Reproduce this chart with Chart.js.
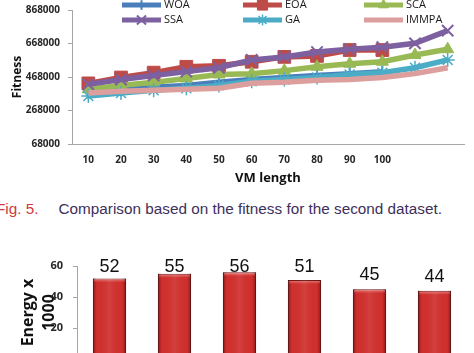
<!DOCTYPE html>
<html><head><meta charset="utf-8">
<script src="https://cdn.jsdelivr.net/npm/chart.js@4.4.0/dist/chart.umd.min.js"></script>
<style>
html,body{margin:0;padding:0;background:#fff;width:474px;height:353px;overflow:hidden;position:relative}
#c1wrap{position:absolute;left:0;top:0;width:474px;height:190px}
#c2wrap{position:absolute;left:0;top:230px;width:474px;height:140px}
#cap{position:absolute;left:-4px;top:200px;font:15.3px/17px "Liberation Sans",Arial,sans-serif;white-space:nowrap;color:#3e2f5b}
#cap .fig{color:#cf3a3a}
#cap .txt{margin-left:20px}
</style></head><body>
<div id="c1wrap"><canvas id="c1" width="474" height="190"></canvas></div>
<div id="cap"><span class="fig">Fig. 5.</span><span class="txt">Comparison based on the fitness for the second dataset.</span></div>
<div id="c2wrap"><canvas id="c2" width="474" height="140"></canvas></div>
<script>
// ---------- data: line chart ----------
const vmLength = ['10','20','30','40','50','60','70','80','90','100','',''];
const woa   = [372000,389000,407000,418000,436000,453000,465000,477000,488000,500000];
const eoa   = [430000,465000,494000,529000,535000,559000,588000,594000,629000,629000];
const sca   = [395000,418000,436000,459000,483000,488000,506000,529000,547000,559000,599000,634000];
const ssa   = [424000,453000,477000,500000,523000,570000,588000,617000,634000,646000,669000,745000];
const ga    = [354000,372000,389000,401000,418000,442000,453000,465000,483000,494000,523000,570000];
const immpa = [372000,383000,389000,395000,401000,430000,436000,448000,453000,465000,488000,523000];
const fitnessTicks = [68000,268000,468000,668000,868000];

// ---------- data: bar chart ----------
const energyCats = ['A','B','C','D','E','F'];
const energyValues = [52,55,56,51,45,44];
const energyTicks = [0,20,40,60];

const FONT = 'Open Sans';

const legendPos = [[122,5],[243,5],[364,5],[122,20],[243,20],[364,20]];
const manualLegend = {
  id:'manualLegend',
  afterDraw(chart){
    const ctx = chart.ctx;
    chart.data.datasets.forEach((ds,i)=>{
      const [x,y] = legendPos[i];
      ctx.save();
      ctx.strokeStyle = ds.borderColor; ctx.lineWidth = 5; ctx.lineCap = 'butt';
      ctx.beginPath(); ctx.moveTo(x,y); ctx.lineTo(x+39,y); ctx.stroke();
      if (ds.pointRadius > 0 && Chart.helpers && Chart.helpers.drawPoint) {
        ctx.fillStyle = ds.pointBackgroundColor; ctx.strokeStyle = ds.pointBorderColor;
        ctx.lineWidth = ds.pointBorderWidth;
        Chart.helpers.drawPoint(ctx,{pointStyle:ds.pointStyle,rotation:ds.pointRotation||0,radius:ds.pointRadius*0.8,borderWidth:ds.pointBorderWidth},x+19.5,y);
      }
      ctx.fillStyle = '#1a1a1a'; ctx.font = '11px "'+FONT+'"'; ctx.textBaseline = 'middle'; ctx.textAlign='left';
      ctx.fillText(ds.label, x+42, y);
      ctx.restore();
    });
  }
};

function ds(label,data,color,style,radius,extra){
  return Object.assign({label,data,borderColor:color,backgroundColor:color,borderWidth:5.5,tension:0,
    pointStyle:style,pointRadius:radius,pointHoverRadius:radius,pointBackgroundColor:color,pointBorderColor:color,pointBorderWidth:2,fill:false},extra||{});
}

new Chart(document.getElementById('c1'),{
  type:'line',
  data:{labels:vmLength,datasets:[
    ds('WOA',woa,'#4a7ebb','line',6,{pointRotation:90,order:5}),
    ds('EOA',eoa,'#be4b48','rect',9,{pointBorderWidth:1,order:4}),
    ds('SCA',sca,'#98b954','triangle',7,{pointBorderWidth:1,order:3}),
    ds('SSA',ssa,'#7d60a0','crossRot',8,{pointBorderWidth:2,order:2}),
    ds('GA',ga,'#4bacc6','star',7,{pointBorderWidth:1.5,order:1}),
    ds('IMMPA',immpa,'#dc9f9d','circle',0,{order:0})
  ]},
  options:{
    responsive:false,animation:false,
    layout:{padding:{top:7,left:0,right:0,bottom:0}},
    plugins:{legend:{display:false},tooltip:{enabled:false}},
    scales:{
      x:{type:'category',offset:true,
        grid:{display:false,drawTicks:false},
        border:{display:true,color:'#a6a6a6',width:1},
        ticks:{autoSkip:false,maxRotation:0,padding:10,color:'#262626',font:{family:FONT,size:10,weight:'bold'}},
        title:{display:true,text:'VM length',color:'#111',font:{family:FONT,size:13,weight:'bold'},padding:{top:0,bottom:4}},
        afterFit(s){s.height=46;}
      },
      y:{min:68000,max:868000,
        afterBuildTicks(s){s.ticks=fitnessTicks.map(v=>({value:v}));},
        grid:{drawOnChartArea:false,drawTicks:true,tickLength:4,color:'#a6a6a6'},
        border:{display:true,color:'#a6a6a6',width:1},
        ticks:{padding:8,color:'#262626',font:{family:FONT,size:10,weight:'bold'},callback:v=>String(v)},
        title:{display:true,text:'Fitness',color:'#111',font:{family:FONT,size:12,weight:'bold'},padding:{top:10,bottom:0}},
        afterFit(s){s.width=72;s.paddingTop=0;s.paddingBottom=0;}
      }
    }
  },
  plugins:[manualLegend]
});

const barStyle = {
  id:'barStyle',
  afterDatasetsDraw(chart){
    const ctx = chart.ctx;
    const meta = chart.getDatasetMeta(0);
    ctx.save();
    meta.data.forEach((el,i)=>{
      const p = el.getProps(['x','y','base','width'],true);
      const l = p.x - p.width/2, w = p.width, h = p.base - p.y;
      const g = ctx.createLinearGradient(l,0,l+w,0);
      g.addColorStop(0,'rgba(60,0,0,0.45)');
      g.addColorStop(0.12,'rgba(60,0,0,0)');
      g.addColorStop(0.5,'rgba(255,255,255,0.08)');
      g.addColorStop(0.88,'rgba(60,0,0,0)');
      g.addColorStop(1,'rgba(60,0,0,0.45)');
      ctx.fillStyle = g; ctx.fillRect(l,p.y,w,h);
      const gv = ctx.createLinearGradient(0,p.y,0,p.y+4);
      gv.addColorStop(0,'rgba(255,200,200,0.55)'); gv.addColorStop(1,'rgba(255,200,200,0)');
      ctx.fillStyle = gv; ctx.fillRect(l+1,p.y+1,w-2,4);
    });
    ctx.font = '18px "Liberation Sans", Arial, sans-serif';
    ctx.fillStyle = '#111'; ctx.textAlign='center'; ctx.textBaseline='middle';
    meta.data.forEach((el,i)=>{
      const y = Math.max(el.y - 14, chart.chartArea.top + 1);
      ctx.fillText(String(chart.data.datasets[0].data[i]), el.x, y);
    });
    ctx.restore();
  }
};

new Chart(document.getElementById('c2'),{
  type:'bar',
  data:{labels:energyCats,datasets:[{data:energyValues,backgroundColor:'#d0302d',borderColor:'#6b1414',borderWidth:1,
    categoryPercentage:1,barPercentage:0.51}]},
  options:{
    responsive:false,animation:false,
    layout:{padding:{top:36,bottom:11,right:7,left:0}},
    plugins:{legend:{display:false},tooltip:{enabled:false}},
    scales:{
      x:{display:false,offset:true},
      y:{min:0,max:60,
        afterBuildTicks(s){s.ticks=energyTicks.map(v=>({value:v}));},
        grid:{drawOnChartArea:false,drawTicks:true,tickLength:4,color:'#a6a6a6'},
        border:{display:true,color:'#a6a6a6',width:1},
        ticks:{padding:10,color:'#262626',font:{family:FONT,size:11,weight:'bold'}},
        title:{display:true,text:['Energy x','1000'],color:'#111',font:{family:FONT,size:16,weight:'bold',lineHeight:1.3125},padding:{top:17.5,bottom:0}},
        afterFit(s){s.width=77;s.paddingTop=0;s.paddingBottom=0;}
      }
    }
  },
  plugins:[barStyle]
});
</script>
</body></html>
